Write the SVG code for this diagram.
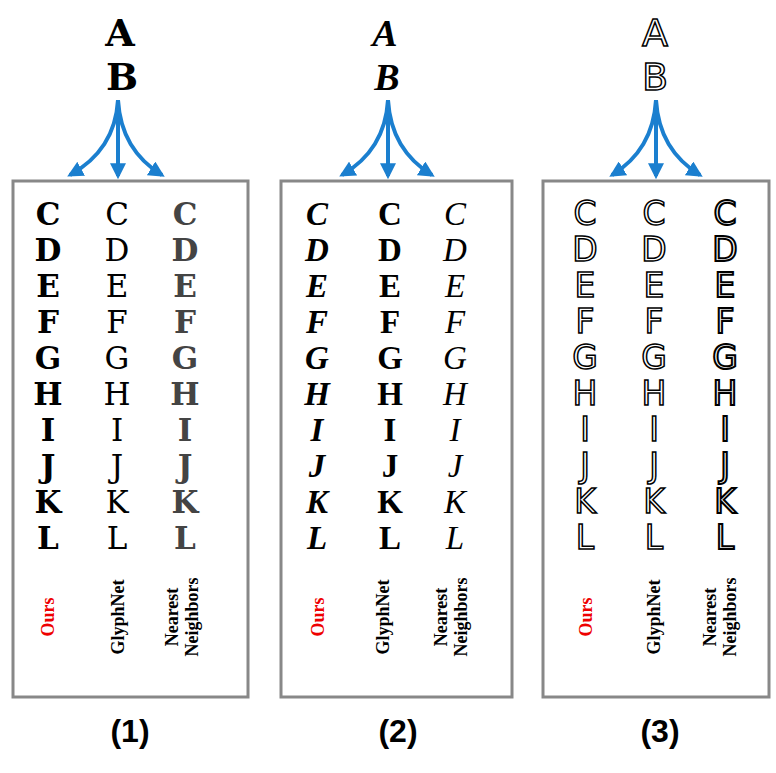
<svg xmlns="http://www.w3.org/2000/svg" width="776" height="773" viewBox="0 0 776 773">
<style>
.box{fill:none;stroke:#888;stroke-width:3}
.arr{fill:none;stroke:#1b7fcf;stroke-width:4}
.lbl{font-family:"Liberation Serif",serif;font-weight:bold;font-size:18px;text-anchor:middle}
.num{font-family:"Liberation Sans",sans-serif;font-weight:bold;font-size:32px;text-anchor:middle}
.g1{font-family:"DejaVu Serif",serif;font-weight:bold;font-size:31px;text-anchor:middle}
.g2{font-family:"Liberation Serif",serif;font-style:italic;font-weight:bold;font-size:33px;text-anchor:middle}
.g3{font-family:"DejaVu Sans",sans-serif;font-size:33px;text-anchor:middle;fill:none;stroke:#000;stroke-width:1.5}
.big{font-size:38px}
</style>
<defs>
<marker id="ah" viewBox="0 0 10 10" refX="8" refY="5" markerWidth="4" markerHeight="4" orient="auto"><path d="M0,0L10,5L0,10z" fill="#1b7fcf"/></marker>
</defs>
<rect width="776" height="773" fill="#fff"/>
<g id="heads">
<text class="g1 big" x="120" y="46">A</text><text class="g1 big" x="122" y="90">B</text>
<text class="g2 big" x="385" y="46">A</text><text class="g2 big" x="387" y="90">B</text>
<text class="g3 big" x="655" y="46">A</text><text class="g3 big" x="655" y="90">B</text>
</g>
<g id="connectors">
<path class="arr" marker-end="url(#ah)" d="M118,100 Q115,150 70,175"/>
<path class="arr" marker-end="url(#ah)" d="M118,100 L118,176"/>
<path class="arr" marker-end="url(#ah)" d="M118,100 Q121,150 162,175"/>
<path class="arr" marker-end="url(#ah)" d="M388,100 Q385,150 342,175"/>
<path class="arr" marker-end="url(#ah)" d="M388,100 L388,176"/>
<path class="arr" marker-end="url(#ah)" d="M388,100 Q391,150 432,175"/>
<path class="arr" marker-end="url(#ah)" d="M656,100 Q653,150 612,175"/>
<path class="arr" marker-end="url(#ah)" d="M656,100 L656,176"/>
<path class="arr" marker-end="url(#ah)" d="M656,100 Q659,150 700,175"/>
</g>
<g id="panel1">
<rect class="box" x="13" y="181" width="235" height="516"/>
<text class="g1" y="225"><tspan x="48">C</tspan><tspan x="48" dy="36">D</tspan><tspan x="48" dy="36">E</tspan><tspan x="48" dy="36">F</tspan><tspan x="48" dy="36">G</tspan><tspan x="48" dy="36">H</tspan><tspan x="48" dy="36">I</tspan><tspan x="48" dy="36">J</tspan><tspan x="48" dy="36">K</tspan><tspan x="48" dy="36">L</tspan></text>
<text class="g1" y="225" style="font-weight:normal"><tspan x="117">C</tspan><tspan x="117" dy="36">D</tspan><tspan x="117" dy="36">E</tspan><tspan x="117" dy="36">F</tspan><tspan x="117" dy="36">G</tspan><tspan x="117" dy="36">H</tspan><tspan x="117" dy="36">I</tspan><tspan x="117" dy="36">J</tspan><tspan x="117" dy="36">K</tspan><tspan x="117" dy="36">L</tspan></text>
<text class="g1" y="225" fill="#444"><tspan x="185">C</tspan><tspan x="185" dy="36">D</tspan><tspan x="185" dy="36">E</tspan><tspan x="185" dy="36">F</tspan><tspan x="185" dy="36">G</tspan><tspan x="185" dy="36">H</tspan><tspan x="185" dy="36">I</tspan><tspan x="185" dy="36">J</tspan><tspan x="185" dy="36">K</tspan><tspan x="185" dy="36">L</tspan></text>
<text class="lbl" fill="#e00" transform="translate(54,617) rotate(-90)">Ours</text>
<text class="lbl" transform="translate(124,617) rotate(-90)">GlyphNet</text>
<text class="lbl" transform="translate(178,617) rotate(-90)">Nearest</text>
<text class="lbl" transform="translate(198,617) rotate(-90)">Neighbors</text>
<text class="num" x="130" y="742">(1)</text>
</g>
<g id="panel2">
<rect class="box" x="281" y="181" width="231" height="516"/>
<text class="g2" y="225"><tspan x="317">C</tspan><tspan x="317" dy="36">D</tspan><tspan x="317" dy="36">E</tspan><tspan x="317" dy="36">F</tspan><tspan x="317" dy="36">G</tspan><tspan x="317" dy="36">H</tspan><tspan x="317" dy="36">I</tspan><tspan x="317" dy="36">J</tspan><tspan x="317" dy="36">K</tspan><tspan x="317" dy="36">L</tspan></text>
<text class="g2" y="225" style="font-style:normal"><tspan x="390">C</tspan><tspan x="390" dy="36">D</tspan><tspan x="390" dy="36">E</tspan><tspan x="390" dy="36">F</tspan><tspan x="390" dy="36">G</tspan><tspan x="390" dy="36">H</tspan><tspan x="390" dy="36">I</tspan><tspan x="390" dy="36">J</tspan><tspan x="390" dy="36">K</tspan><tspan x="390" dy="36">L</tspan></text>
<text class="g2" y="225" style="font-weight:normal"><tspan x="455">C</tspan><tspan x="455" dy="36">D</tspan><tspan x="455" dy="36">E</tspan><tspan x="455" dy="36">F</tspan><tspan x="455" dy="36">G</tspan><tspan x="455" dy="36">H</tspan><tspan x="455" dy="36">I</tspan><tspan x="455" dy="36">J</tspan><tspan x="455" dy="36">K</tspan><tspan x="455" dy="36">L</tspan></text>
<text class="lbl" fill="#e00" transform="translate(324,617) rotate(-90)">Ours</text>
<text class="lbl" transform="translate(389,617) rotate(-90)">GlyphNet</text>
<text class="lbl" transform="translate(447,617) rotate(-90)">Nearest</text>
<text class="lbl" transform="translate(467,617) rotate(-90)">Neighbors</text>
<text class="num" x="398" y="742">(2)</text>
</g>
<g id="panel3">
<rect class="box" x="543" y="181" width="226" height="516"/>
<text class="g3" y="225"><tspan x="585">C</tspan><tspan x="585" dy="36">D</tspan><tspan x="585" dy="36">E</tspan><tspan x="585" dy="36">F</tspan><tspan x="585" dy="36">G</tspan><tspan x="585" dy="36">H</tspan><tspan x="585" dy="36">I</tspan><tspan x="585" dy="36">J</tspan><tspan x="585" dy="36">K</tspan><tspan x="585" dy="36">L</tspan></text>
<text class="g3" y="225"><tspan x="654">C</tspan><tspan x="654" dy="36">D</tspan><tspan x="654" dy="36">E</tspan><tspan x="654" dy="36">F</tspan><tspan x="654" dy="36">G</tspan><tspan x="654" dy="36">H</tspan><tspan x="654" dy="36">I</tspan><tspan x="654" dy="36">J</tspan><tspan x="654" dy="36">K</tspan><tspan x="654" dy="36">L</tspan></text>
<text class="g3" y="225" style="stroke-width:2"><tspan x="725">C</tspan><tspan x="725" dy="36">D</tspan><tspan x="725" dy="36">E</tspan><tspan x="725" dy="36">F</tspan><tspan x="725" dy="36">G</tspan><tspan x="725" dy="36">H</tspan><tspan x="725" dy="36">I</tspan><tspan x="725" dy="36">J</tspan><tspan x="725" dy="36">K</tspan><tspan x="725" dy="36">L</tspan></text>
<text class="lbl" fill="#e00" transform="translate(592,617) rotate(-90)">Ours</text>
<text class="lbl" transform="translate(660,617) rotate(-90)">GlyphNet</text>
<text class="lbl" transform="translate(716,617) rotate(-90)">Nearest</text>
<text class="lbl" transform="translate(736,617) rotate(-90)">Neighbors</text>
<text class="num" x="660" y="742">(3)</text>
</g>
</svg>
